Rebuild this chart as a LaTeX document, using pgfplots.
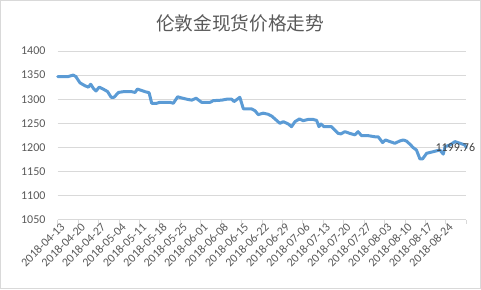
\documentclass[border=0pt]{standalone}
\usepackage{fontspec}
\setmainfont{Carlito}
\newfontfamily\cjk{Noto Sans CJK SC}
\usepackage{pgfplots}
\pgfplotsset{compat=1.18}
\definecolor{ctxt}{HTML}{595959}
\definecolor{cgrid}{HTML}{D9D9D9}
\definecolor{cline}{HTML}{5B9BD5}
\definecolor{clbl}{HTML}{404040}
\begin{document}
\begin{tikzpicture}
\path[use as bounding box] (0,0) rectangle (360.75pt,216.75pt);
\draw[cgrid, line width=0.75pt] (0.375pt,0.375pt) rectangle (360.375pt,216.375pt);
\node[text=ctxt, font=\cjk\fontsize{14}{16}\selectfont] at (180pt,199.5pt) {伦敦金现货价格走势};
\begin{axis}[
  at={(43.3pt,52pt)}, anchor=south west,
  scale only axis, width=306.45pt, height=126.5pt,
  xmin=0, xmax=140, ymin=1050, ymax=1400,
  ytick={1050,1100,...,1400},
  xtick={0,7,...,140},
  xticklabels={2018-04-13,2018-04-20,2018-04-27,2018-05-04,2018-05-11,2018-05-18,2018-05-25,2018-06-01,2018-06-08,2018-06-15,2018-06-22,2018-06-29,2018-07-06,2018-07-13,2018-07-20,2018-07-27,2018-08-03,2018-08-10,2018-08-17,2018-08-24,{}},
  axis line style={draw=none},
  ymajorgrids, grid style={cgrid, line width=0.75pt},
  ytick style={draw=none},
  xtick style={draw=cgrid, line width=0.75pt},
  tick align=outside, tick pos=left,
  major tick length=3pt,
  ticklabel style={font=\fontsize{9}{10}\selectfont, text=ctxt},
  yticklabel style={inner sep=0pt, xshift=-6pt},
  xticklabel style={rotate=45, anchor=north east, inner sep=0pt, xshift=2pt},
  /pgf/number format/assume math mode=true,
  /pgf/number format/1000 sep={},
  clip=false,
]
\addplot[cline, line width=2.25pt, line join=round, line cap=round] coordinates {
(0,1347) (3.6,1347) (5.3,1350) (6.2,1347) (7.6,1334) (9.3,1328) (10.5,1325) (11.3,1331)
(12.2,1322.6) (13.1,1317) (14.2,1325) (15.6,1321) (17.1,1315.6) (18.3,1304) (19.3,1304)
(20.8,1314) (22.5,1315.6) (25.3,1315.6) (26.5,1314) (27.3,1321) (28.8,1318) (29.9,1315.6)
(31.3,1313.5) (32.2,1291.5) (33.9,1291.5) (35,1293.5) (38.5,1293.5) (39.6,1291.5)
(41.1,1305) (42.5,1302.5) (44.2,1300) (45.9,1298) (47.4,1302) (49.3,1293.5) (52.2,1293.5)
(53.3,1297) (56.2,1298) (57.9,1300) (59.6,1300) (60.4,1295) (62.4,1304) (63.6,1280)
(66.4,1280) (67.6,1276) (68.7,1268) (70.4,1271) (72.1,1268.7) (73.3,1265) (74.8,1257)
(76.1,1250) (77.3,1253.4) (79,1248.5) (80.1,1243) (81.3,1253.4) (82.8,1259) (84.1,1255.4)
(85.8,1258) (87.5,1258) (88.7,1256) (89.5,1243) (90.2,1248.5) (91.2,1243) (93.8,1243)
(94.7,1237.6) (96.1,1229) (97,1228) (98.4,1232.6) (100.1,1229) (101.8,1226) (102.9,1232.6)
(104.1,1224.3) (106.4,1224.3) (108.7,1222) (109.8,1222) (111.3,1210) (112.3,1215.4)
(113.8,1212) (115.5,1208.5) (117.2,1213.3) (118.4,1215.4) (119.5,1213) (120.7,1206.4)
(121.8,1199.4) (122.9,1194.6) (124.1,1176) (125,1176) (126.4,1187.7) (128.6,1191)
(130.9,1194.6) (132.1,1186) (132.7,1201.5) (134.4,1205) (136.1,1212) (137.8,1208.5)
(139.5,1205) (140,1199.76)
};
\node[text=clbl, font=\fontsize{9}{10}\selectfont, xshift=-8.25pt] at (axis cs:140,1199.76) {1199.76};
\end{axis}
\end{tikzpicture}
\end{document}
